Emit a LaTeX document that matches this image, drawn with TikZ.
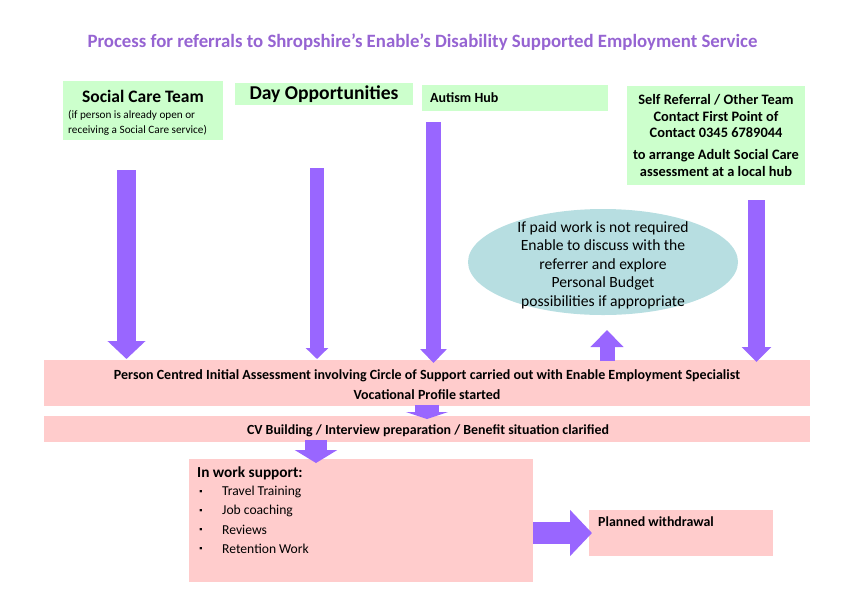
\documentclass[tikz,border=0pt]{standalone}
\usepackage{fontspec}
\setmainfont{Carlito}
\usetikzlibrary{arrows.meta,shapes.geometric}
\definecolor{ttl}{RGB}{150,100,210}
\definecolor{arr}{RGB}{153,102,255}
\definecolor{grn}{RGB}{204,255,204}
\definecolor{pnk}{RGB}{255,204,204}
\definecolor{blu}{RGB}{183,222,225}
\tikzset{
  gbox/.style={fill=grn, draw=none, inner sep=0, anchor=north west},
  pbox/.style={fill=pnk, draw=none, inner sep=0, anchor=north west},
  txt/.style={inner sep=0, text=black},
  barrow/.style={arr, line width=#1},
}
\newcommand{\fs}[2]{\fontsize{#1}{#2}\selectfont}
\begin{document}
\begin{tikzpicture}[x=1pt,y=-1pt]
\useasboundingbox (0,0) rectangle (842,595);
% title
\node[txt, text=ttl, font=\fs{18.8}{20}\bfseries] (title) at (422.5,42) {Process for referrals to Shropshire’s Enable’s Disability Supported Employment Service};
% green boxes
\node[gbox, minimum width=160pt, minimum height=59pt] (sct) at (63,81) {};
\node[gbox, minimum width=178pt, minimum height=22pt] (day) at (235,83) {};
\node[gbox, minimum width=186pt, minimum height=26pt] (aut) at (422,85) {};
\node[gbox, minimum width=178pt, minimum height=99pt] (self) at (627,86) {};
\node[txt, font=\fs{17.5}{18}\bfseries] (scttxt) at (143,96) {Social Care Team};
\node[txt, font=\fs{11.2}{15}, anchor=west, align=left] (sctsub) at (68,123) {(if person is already open or\\receiving a Social Care service)};
\node[txt, font=\fs{19.6}{20}\bfseries] (daytxt) at (324,94.5) {Day Opportunities};
\node[txt, font=\fs{14}{16}\bfseries, anchor=west] (auttxt) at (430,98) {Autism Hub};
\node[txt, font=\fs{14.4}{16.5}\bfseries, align=center] (selftxt1) at (716,116) {Self Referral / Other Team\\Contact First Point of\\Contact 0345 6789044};
\node[txt, font=\fs{14.4}{17}\bfseries, align=center] (selftxt2) at (716,162.5) {to arrange Adult Social Care\\assessment at a local hub};
% ellipse
\node[ellipse, fill=blu, draw=none, minimum width=270pt, minimum height=106pt, inner sep=0] (ell) at (603,262) {};
\node[txt, font=\fs{15.6}{18.5}, align=center] (elltxt) at (603,265) {If paid work is not required\\Enable to discuss with the\\referrer and explore\\Personal Budget\\possibilities if appropriate};
% pink boxes
\node[pbox, minimum width=766pt, minimum height=46pt] (pca) at (44,360) {};
\node[txt, font=\fs{14}{20}\bfseries, align=center] (pcatxt) at (427,384.5) {Person Centred Initial Assessment involving Circle of Support carried out with Enable Employment Specialist\\Vocational Profile started};
\node[pbox, minimum width=766pt, minimum height=26pt] (cv) at (44,416) {};
\node[txt, font=\fs{13.9}{15}\bfseries] (cvtxt) at (428,430.5) {CV Building / Interview preparation / Benefit situation clarified};
\node[pbox, minimum width=344pt, minimum height=123pt] (iws) at (189,459) {};
\node[txt, font=\fs{15.3}{17}\bfseries, anchor=west] (iwstxt) at (197,473) {In work support:};
\foreach \t/\y [count=\i] in {Travel Training/492, Job coaching/511, Reviews/530, Retention Work/549}{
  \node[txt, font=\fs{9}{10}, anchor=center] (bul\i) at (201,\y) {▪};
  \node[txt, font=\fs{13.6}{15}, anchor=west] (item\i) at (222,\y) {\t};
}
\node[pbox, minimum width=184pt, minimum height=46pt] (pw) at (589,510) {};
\node[txt, font=\fs{13.9}{15}\bfseries, anchor=west] (pwtxt) at (598,521.5) {Planned withdrawal};
% arrow coordinates
\coordinate (a1s) at (126.5,170); \coordinate (a1e) at (126.5,359);
\coordinate (a2s) at (317,168);   \coordinate (a2e) at (317,359);
\coordinate (a3s) at (433.5,122); \coordinate (a3e) at (433.5,363);
\coordinate (a5s) at (756.5,200); \coordinate (a5e) at (756.5,362);
\coordinate (u1s) at (607,361);   \coordinate (u1e) at (607,330);
\coordinate (s1s) at (427,405);   \coordinate (s1e) at (427,419);
\coordinate (s2s) at (316,440);   \coordinate (s2e) at (316,463);
\coordinate (r1s) at (533,533);   \coordinate (r1e) at (592,533);
\draw[barrow=19pt, -{Triangle[width=37pt,length=18pt]}] (a1s) -- (a1e);
\draw[barrow=14pt, -{Triangle[width=22pt,length=11pt]}] (a2s) -- (a2e);
\draw[barrow=15pt, -{Triangle[width=26pt,length=14pt]}] (a3s) -- (a3e);
\draw[barrow=17pt, -{Triangle[width=29pt,length=15pt]}] (a5s) -- (a5e);
\draw[barrow=15pt, -{Triangle[width=32pt,length=17pt]}] (u1s) -- (u1e);
\draw[barrow=24pt, -{Triangle[width=42pt,length=7pt]}] (s1s) -- (s1e);
\draw[barrow=22pt, -{Triangle[width=42pt,length=13pt]}] (s2s) -- (s2e);
\draw[barrow=22pt, -{Triangle[width=45pt,length=22pt]}] (r1s) -- (r1e);
\end{tikzpicture}
\end{document}
